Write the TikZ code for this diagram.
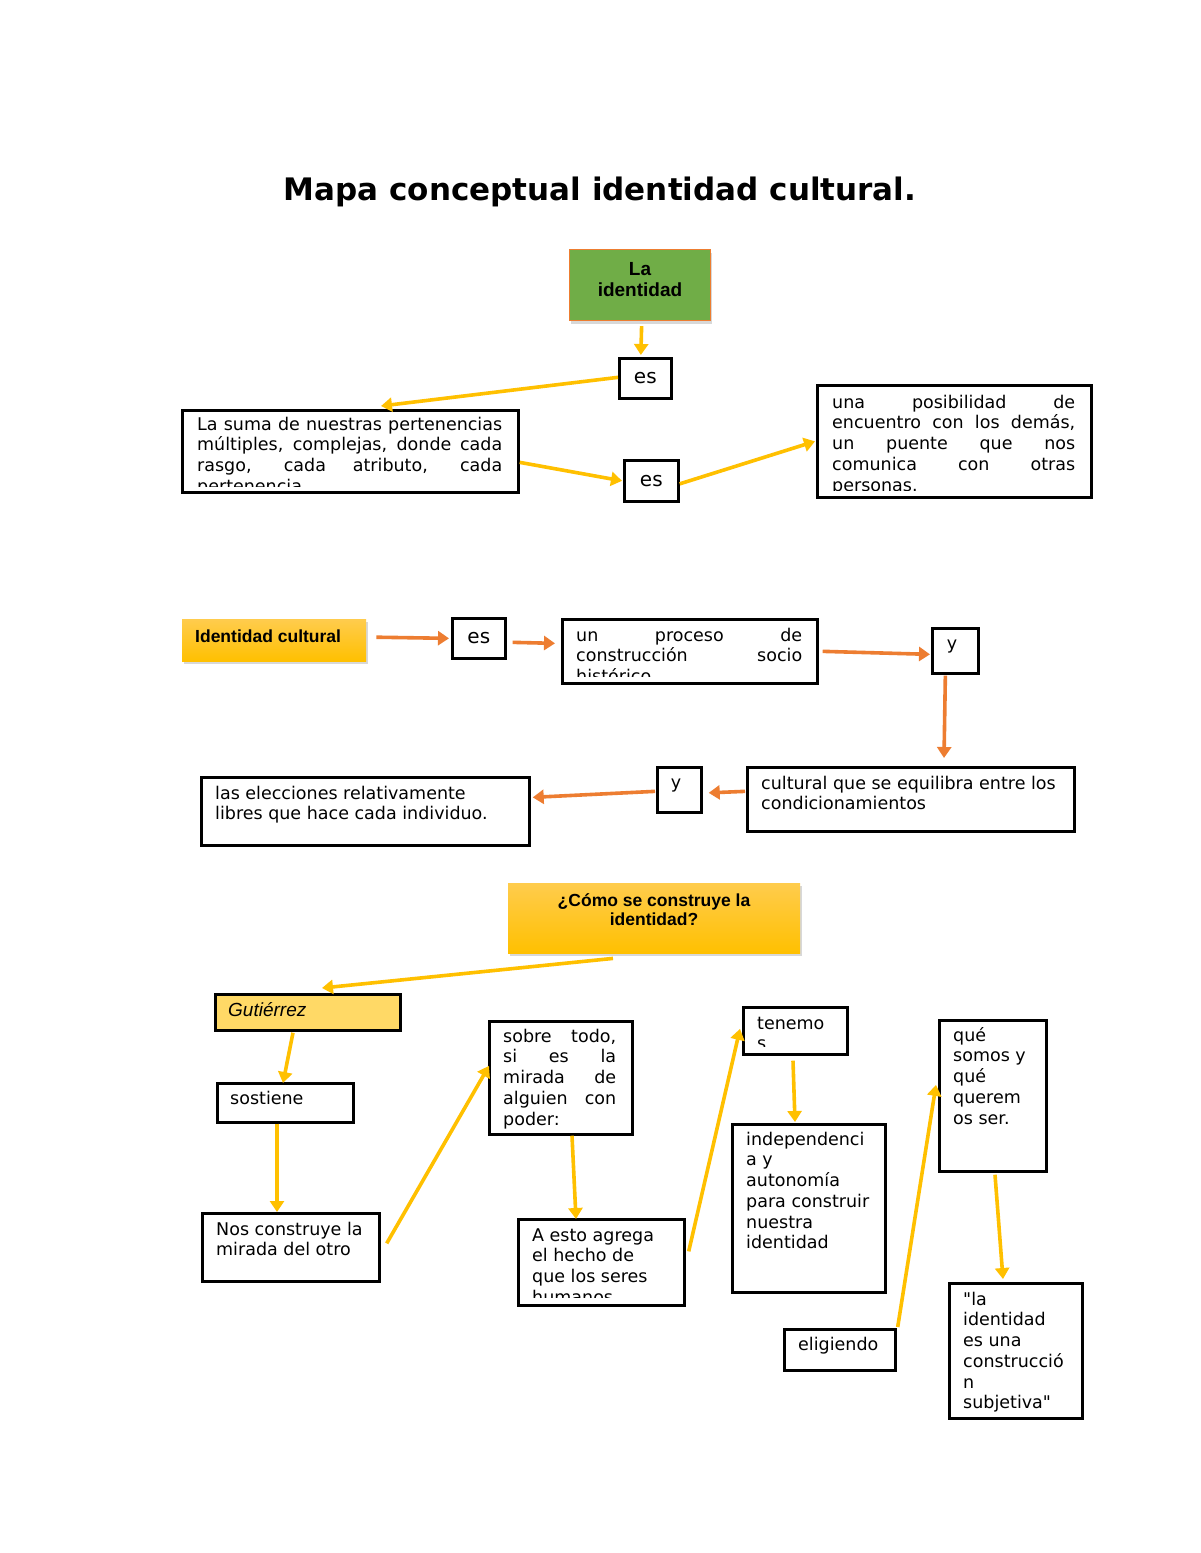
\documentclass[tikz,border=0pt]{standalone}
\usepackage{fontspec}
\setmainfont{DejaVu Sans}
\newfontfamily\arialf{Liberation Sans}
\newfontfamily\noligf{DejaVu Sans}[Mapping=,Ligatures=NoCommon]
\usetikzlibrary{arrows.meta,shadows,calc}
\definecolor{yel}{HTML}{FFC000}
\definecolor{org}{HTML}{ED7D31}
\definecolor{grn}{HTML}{70AD47}
\definecolor{gutf}{HTML}{FFD966}
\definecolor{gtop}{HTML}{FFCC4D}
\newcommand\fl{\rule{0pt}{15pt}}
\newcommand\dq{{\noligf\char"22\relax}}
\newcommand\clipnode[3]{\begin{scope}\clip ([shift={(1.5,1.5)}]#1.north west) rectangle ([shift={(-1.5,-#2)}]#1.south east); #3 \end{scope}}
\tikzset{
 box/.style={draw=black, line width=2.7pt, inner sep=0pt, anchor=north west, fill=white},
 txt/.style={anchor=north west, inner sep=0pt, align=left, font=\fontsize{17.5}{20.7}\selectfont},
 stxt/.style={anchor=base west, inner sep=0pt, font=\fontsize{17.5}{20.7}\selectfont},
 esbox/.style={box, font=\fontsize{20}{24}\selectfont},
 btxt/.style={inner sep=0pt, font=\arialf\bfseries\fontsize{17.5}{19}\selectfont},
 goldbox/.style={anchor=north west, inner sep=0pt, top color=gtop, bottom color=yel,
   drop shadow={shadow xshift=1.5pt, shadow yshift=-3pt, opacity=0.3}},
 greenbox/.style={anchor=north west, inner sep=0pt, fill=grn, draw=org, line width=1.2pt,
   drop shadow={shadow xshift=1.5pt, shadow yshift=-3pt, opacity=0.3}},
 ya/.style={draw=yel, line width=3.6pt, -{Triangle[width=14pt,length=11pt]}},
 oa/.style={draw=org, line width=3.6pt, -{Triangle[width=14pt,length=11pt]}},
}
\begin{document}
\begin{tikzpicture}[x=1pt,y=-1pt]
\useasboundingbox (0,0) rectangle (1200,1553);
\fill[white] (0,0) rectangle (1200,1553);

% title
\node[anchor=base, inner sep=0pt, font=\fontsize{31}{36}\selectfont\bfseries] (title) at (600,200) {Mapa conceptual identidad cultural.};

% ---------- section 1 ----------
\node[greenbox, minimum width=141pt, minimum height=71pt] (li) at (569,249) {};
\node[anchor=north, align=center, inner sep=0pt, font=\arialf\bfseries\fontsize{19}{21}\selectfont] (lit) at (640,260) {\fl La\\identidad};

\node[esbox, minimum width=52pt, minimum height=40pt] (es1) at (618,357) {es};

\node[box, minimum width=336pt, minimum height=82pt] (suma) at (181,409) {};
\clipnode{suma}{7}{\node[txt] (sumat) at (197,415) {\fl\makebox[305pt][s]{La suma de nuestras pertenencias}\\
\makebox[305pt][s]{múltiples, complejas, donde cada}\\
\makebox[305pt][s]{rasgo, cada atributo, cada}\\
pertenencia};}

\node[esbox, minimum width=54pt, minimum height=41pt] (es2) at (623,459) {es};

\node[box, minimum width=274pt, minimum height=112pt] (posib) at (816,384) {};
\clipnode{posib}{8}{\node[txt] (posibt) at (832,393) {\fl\makebox[243pt][s]{una posibilidad de}\\
\makebox[243pt][s]{encuentro con los demás,}\\
\makebox[243pt][s]{un puente que nos}\\
\makebox[243pt][s]{comunica con otras}\\
personas.};}

\draw[ya] ([shift={(1.5,5)}]li.south) -- ([shift={(-4.5,-2)}]es1.north);
\draw[ya] ([shift={(0,-1)}]es1.west) -- ([shift={(200,-3)}]suma.north west);
\draw[ya] ([shift={(0,11)}]suma.east) -- ([shift={(-1,0)}]es2.west);
\draw[ya] ([shift={(0,3)}]es2.east) -- ([shift={(-1,0)}]posib.west);

% ---------- section 2 ----------
\node[goldbox, minimum width=184pt, minimum height=42pt] (ic) at (182,619) {};
\node[btxt, anchor=base west] (ict) at (195,642) {Identidad cultural};

\node[esbox, minimum width=53pt, minimum height=40pt] (es3) at (451,617) {es};

\node[box, minimum width=255pt, minimum height=64pt] (proc) at (561,618) {};
\clipnode{proc}{8}{\node[txt] (proct) at (576,626) {\fl\makebox[226pt][s]{un proceso de}\\
\makebox[226pt][s]{construcción socio}\\
histórico};}

\node[box, minimum width=46pt, minimum height=45pt] (y1) at (931,627) {};
\node[stxt, anchor=base] (y1t) at (952,649) {y};

\node[box, minimum width=327pt, minimum height=64pt] (cult) at (746,766) {};
\node[txt] (cultt) at (761,774) {\fl cultural que se equilibra entre los\\condicionamientos};

\node[box, minimum width=44pt, minimum height=45pt] (y2) at (656,766) {};
\node[stxt, anchor=base] (y2t) at (676,788) {y};

\node[box, minimum width=328pt, minimum height=68pt] (elec) at (200,776) {};
\node[txt] (elect) at (215,784) {\fl las elecciones relativamente\\libres que hace cada individuo.};

\draw[oa] ([shift={(10,-3)}]ic.east) -- ([shift={(-2,0)}]es3.west);
\draw[oa] ([shift={(6,4)}]es3.east) -- ([shift={(-6,-8)}]proc.west);
\draw[oa] ([shift={(4,0)}]proc.east) -- ([shift={(-1,3.5)}]y1.west);
\draw[oa] ([shift={(-10,1)}]y1.south) -- ([shift={(198,-8)}]cult.north west);
\draw[oa] ([shift={(-1,-8)}]cult.west) -- ([shift={(6,3)}]y2.east);
\draw[oa] ([shift={(-1,1.5)}]y2.west) -- ([shift={(2,-14)}]elec.east);

% ---------- section 3 ----------
\node[goldbox, minimum width=292pt, minimum height=70pt] (como) at (508,883) {};
\node[btxt, anchor=north, align=center] (comot) at (654,889.5) {\rule{0pt}{17pt}¿Cómo se construye la\\identidad?};

\node[box, fill=gutf, minimum width=185pt, minimum height=36pt] (gut) at (214,993) {};
\node[anchor=base west, inner sep=0pt, font=\arialf\itshape\fontsize{19}{22}\selectfont] (gutt) at (228,1016) {Gutiérrez};

\node[box, minimum width=136pt, minimum height=39pt] (sost) at (216,1082) {};
\node[stxt] (sostt) at (230,1104) {sostiene};

\node[box, minimum width=177pt, minimum height=68pt] (nos) at (201,1212) {};
\node[txt] (nost) at (216,1220) {\fl Nos construye la\\mirada del otro};

\node[box, minimum width=143pt, minimum height=113pt] (sobre) at (488,1020) {};
\node[txt] (sobret) at (503,1027) {\fl\makebox[113pt][s]{sobre todo,}\\
\makebox[113pt][s]{si es la}\\
\makebox[113pt][s]{mirada de}\\
\makebox[113pt][s]{alguien con}\\
poder:};

\node[box, minimum width=166pt, minimum height=86pt] (aesto) at (517,1218) {};
\clipnode{aesto}{9}{\node[txt] (aestot) at (532,1226) {\fl A esto agrega\\el hecho de\\que los seres\\humanos};}

\node[box, minimum width=104pt, minimum height=47pt] (ten) at (742,1006) {};
\clipnode{ten}{9}{\node[txt] (tent) at (757,1014) {\fl tenemo\\s};}

\node[box, minimum width=153pt, minimum height=168pt] (indep) at (731,1123) {};
\node[txt] (indept) at (746,1130) {\fl independenci\\a y\\autonomía\\para construir\\nuestra\\identidad};

\node[box, minimum width=111pt, minimum height=41pt] (elig) at (783,1328) {};
\node[stxt] (eligt) at (798,1350) {eligiendo};

\node[box, minimum width=107pt, minimum height=151pt] (que) at (938,1019) {};
\node[txt] (quet) at (953,1026) {\fl qué\\somos y\\qué\\querem\\os ser.};

\node[box, minimum width=133pt, minimum height=135pt] (la) at (948,1282) {};
\node[txt] (lat) at (963,1290) {\fl \dq la\\identidad\\es una\\construcció\\n\\subjetiva\dq};

\draw[ya] ([shift={(105,5)}]como.south west) -- ([shift={(108,-5)}]gut.north west);
\draw[ya] ([shift={(79,1)}]gut.south west) -- ([shift={(67,1)}]sost.north west);
\draw[ya] ([shift={(61,0)}]sost.south west) -- ([shift={(76,0)}]nos.north west);
\draw[ya] ([shift={(6,-4)}]nos.east) -- ([shift={(1,-12)}]sobre.west);
\draw[ya] ([shift={(84,0)}]sobre.south west) -- ([shift={(59,1)}]aesto.north west);
\draw[ya] ([shift={(3,-11)}]aesto.east) -- ([shift={(-2,-2)}]ten.west);
\draw[ya] ([shift={(51,5)}]ten.south west) -- ([shift={(64,-1)}]indep.north west);
\draw[ya] ([shift={(1,-1)}]elig.north east) -- ([shift={(-2,-11)}]que.west);
\draw[ya] ([shift={(57,2)}]que.south west) -- ([shift={(55,-3)}]la.north west);
\end{tikzpicture}
\end{document}
